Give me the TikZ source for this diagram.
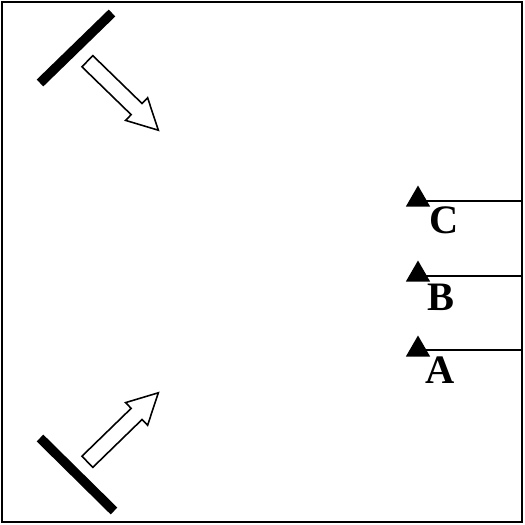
\documentclass[tikz,border=0pt]{standalone}
\usepackage{fontspec}
\setmainfont{Liberation Serif}
\usetikzlibrary{shapes.geometric,shapes.arrows}
\begin{document}
\begin{tikzpicture}[x=0.02cm,y=-0.02cm,
    mirror/.style={line width=5.4pt},
    beam/.style={single arrow,draw,line width=0.9pt,fill=white,minimum height=1.98cm,
      minimum width=0.6cm,inner sep=0.14cm,single arrow head extend=0.16cm,single arrow tip angle=55},
    tri/.style={regular polygon,regular polygon sides=3,fill=black,inner sep=0pt,minimum size=0.56cm},
    lbl/.style={font=\fontsize{23}{23}\selectfont\bfseries}]
    \useasboundingbox (0,0) rectangle (525,525);
    \draw [line width=1.3pt] (2,2) rectangle (522,522);
    % mirrors
    \draw [mirror] (40,83) -- (112,13);
    \draw [mirror] (40,438) -- (114,511);
    % incoming light
    \node [beam,rotate=-44.2] (b1) at (117.5,90.5) {};
    \node [beam,rotate=44.2] (b2) at (117.5,432.5) {};
    % points
    \coordinate (eC) at (522,201);
    \coordinate (eB) at (522,276);
    \coordinate (eA) at (522,350);
    \draw [line width=0.8pt] (418,201) -- (eC);
    \draw [line width=0.8pt] (418,276) -- (eB);
    \draw [line width=0.8pt] (418,350) -- (eA);
    \node [tri] (tC) at (418,199.5) {};
    \node [tri] (tB) at (418,274.5) {};
    \node [tri] (tA) at (418,349.5) {};
    \node [lbl] (lC) at (444,220) {C};
    \node [lbl] (lB) at (441,297) {B};
    \node [lbl] (lA) at (440,370) {A};
\end{tikzpicture}
\end{document}
